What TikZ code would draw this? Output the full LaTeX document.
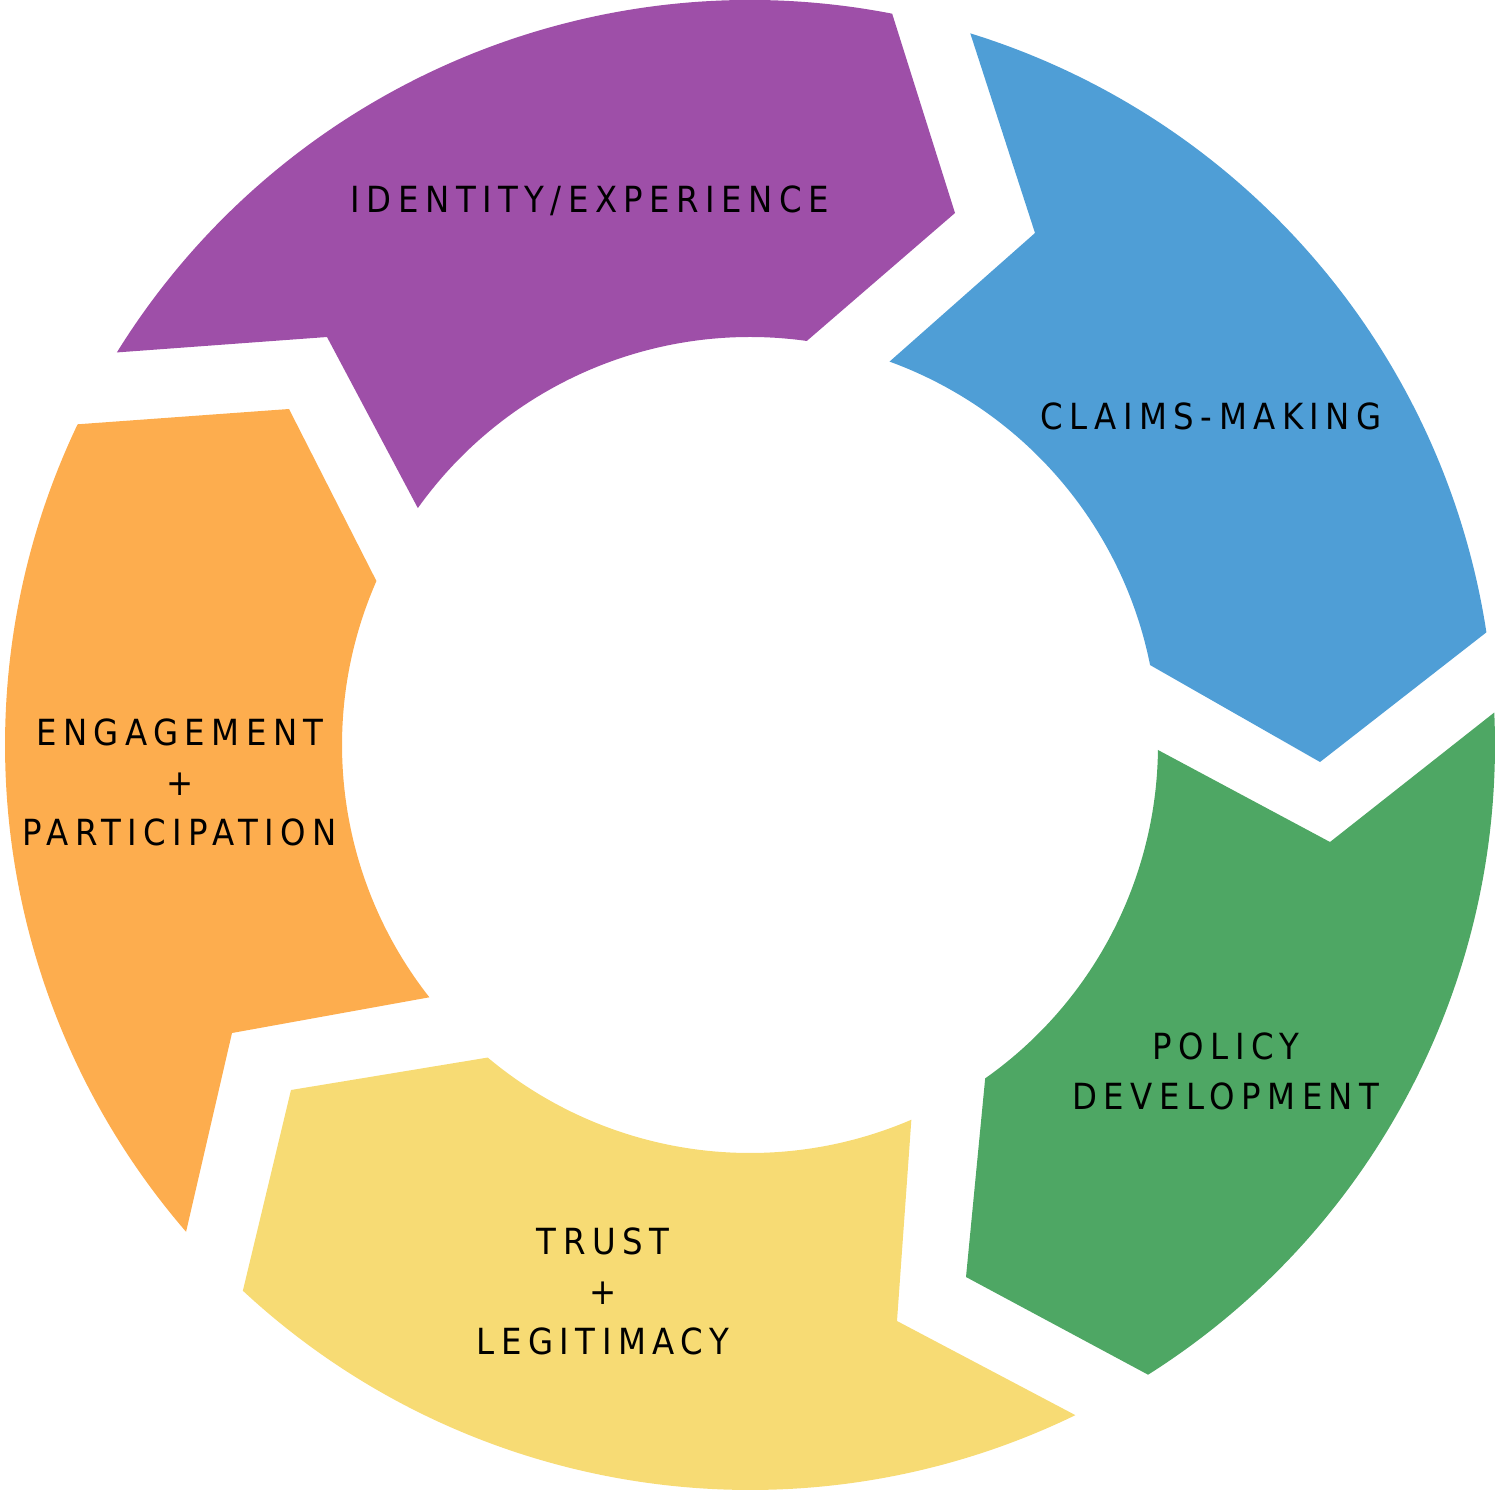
\documentclass[tikz,border=0pt]{standalone}
\usepackage{fontspec}
\usetikzlibrary{calc}
\newfontfamily\lblfont[LetterSpace=18]{DejaVu Sans Condensed}
\definecolor{cpurple}{HTML}{9E4FA8}
\definecolor{cblue}{HTML}{4F9ED6}
\definecolor{cgreen}{HTML}{4EA764}
\definecolor{cyellow}{HTML}{F7DB74}
\definecolor{corange}{HTML}{FDAD4E}
\begin{document}
\begin{tikzpicture}[x=0.5pt,y=-0.5pt,
  lbl/.style={font=\lblfont\fontsize{18}{25}\selectfont,align=center,text=black,inner sep=0pt}]
\useasboundingbox (0,0) rectangle (1500,1492);
\coordinate (c) at (750,745);
% purple
\fill[cpurple] (c) ++(-148.2:745) arc[start angle=-148.2,end angle=-79,radius=745]
  -- (955,213) -- ($(c)+(-82:408)$) arc[start angle=-82,end angle=-144.5,radius=408] -- (327,337) -- cycle;
% blue
\fill[cblue] (c) ++(-72.8:745) arc[start angle=-72.8,end angle=-8.7,radius=745]
  -- (1320,762) -- ($(c)+(-11.3:408)$) arc[start angle=-11.3,end angle=-70,radius=408] -- (1035,233) -- cycle;
% green
\fill[cgreen] (c) ++(-2.5:745) arc[start angle=-2.5,end angle=57.7,radius=745]
  -- (966,1277) -- ($(c)+(54.8:408)$) arc[start angle=54.8,end angle=0.7,radius=408] -- (1330,842) -- cycle;
% yellow
\fill[cyellow] (c) ++(64.1:745) arc[start angle=64.1,end angle=132.9,radius=745]
  -- (291,1090) -- ($(c)+(130:408)$) arc[start angle=130,end angle=66.7,radius=408] -- (897,1321) -- cycle;
% orange
\fill[corange] (c) ++(139.2:745) arc[start angle=139.2,end angle=205.5,radius=745]
  -- (289,409) -- ($(c)+(203.7:408)$) arc[start angle=203.7,end angle=141.8,radius=408] -- (232,1033) -- cycle;
\node[lbl] (t1) at (590,201) {IDENTITY/EXPERIENCE};
\node[lbl] (t2) at (1211,416) {CLAIMS-MAKING};
\node[lbl] (t3) at (1226,1071) {POLICY\\DEVELOPMENT};
\node[lbl] (t4) at (603,1291) {TRUST\\+\\LEGITIMACY};
\node[lbl] (t5) at (180,782) {ENGAGEMENT\\+\\PARTICIPATION};
\end{tikzpicture}
\end{document}
